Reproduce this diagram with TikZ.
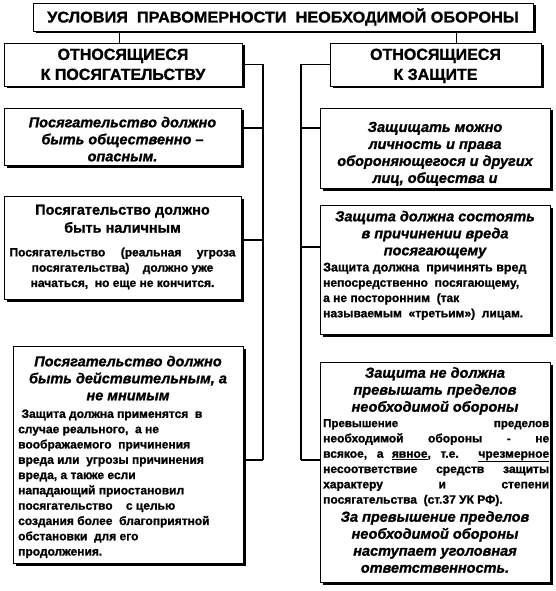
\documentclass[tikz,border=0pt]{standalone}
\usepackage{fontspec}
\setmainfont{Liberation Sans}[BoldFeatures={FakeBold=1.2}, BoldItalicFeatures={FakeBold=1.2}]
\newfontfamily\widefont{Liberation Sans}[FakeStretch=1.05, BoldFeatures={FakeBold=1.2}]
\usetikzlibrary{shadows,calc}
\newcommand\fTitle{\widefont\fontsize{15.5}{20}\selectfont\bfseries}
\newcommand\fHead{\fontsize{16}{20}\selectfont\bfseries}
\newcommand\fIt{\fontsize{14.5}{17}\selectfont\bfseries\itshape}
\newcommand\fBH{\fontsize{14.5}{18}\selectfont\bfseries}
\newcommand\fBody{\fontsize{12}{15.3}\selectfont\bfseries}
\begin{document}
\begin{tikzpicture}[x=1pt,y=-1pt,
  box/.style={draw=black, line width=0.8pt, fill=white, rectangle, inner sep=0pt,
    drop shadow={shadow xshift=2.5pt, shadow yshift=-2.5pt, opacity=1, fill=black}},
  conn/.style={line width=1.6pt, draw=black},
  thinconn/.style={line width=0.8pt, draw=black},
  txt/.style={inner sep=0pt, anchor=north, align=center},
  ltxt/.style={inner sep=0pt, anchor=north west, align=left}]
\useasboundingbox (0,0) rectangle (556,591);
% boxes
\node[box, minimum width=500pt, minimum height=28pt] (title) at (283,17) {};
\node[box, minimum width=238pt, minimum height=43pt] (hL) at (123,64.5) {};
\node[box, minimum width=211pt, minimum height=43pt] (hR) at (435.5,64.5) {};
\node[box, minimum width=237pt, minimum height=57pt] (L1) at (122.5,136.5) {};
\node[box, minimum width=237pt, minimum height=103pt] (L2) at (122.5,247.5) {};
\node[box, minimum width=230pt, minimum height=217pt] (L3) at (128,454.5) {};
\node[box, minimum width=230pt, minimum height=80pt] (R1) at (435,148) {};
\node[box, minimum width=230pt, minimum height=129pt] (R2) at (435,269.5) {};
\node[box, minimum width=230pt, minimum height=220pt] (R3) at (435,472) {};
% connectors
\coordinate (vL) at (263,460);
\coordinate (vR) at (301,460);
\coordinate (yA) at (0,128);
\coordinate (yB) at (0,240);
\coordinate (yC) at (0,247);
\draw[thinconn] ([xshift=-4pt]hL.north) -- ([xshift=-4pt]hL.north |- title.south);
\draw[thinconn] ([xshift=20.5pt]hR.north) -- ([xshift=20.5pt]hR.north |- title.south);
\draw[conn] (hL.east) -| (vL);
\draw[conn] (hR.west) -| (vR);
\draw[conn] (L1.east |- yA) -- (vL |- yA);
\draw[conn] (L2.east |- yB) -- (vL |- yB);
\draw[conn] (L3.east |- vL) -- (vL);
\draw[conn] (R1.west |- yA) -- (vR |- yA);
\draw[conn] (R2.west |- yC) -- (vR |- yC);
\draw[conn] (R3.west |- vR) -- (vR);
% texts
\node[inner sep=0pt, anchor=base, font=\fTitle] (tTitle) at (283,22.5) {УСЛОВИЯ\ \ ПРАВОМЕРНОСТИ\ \ НЕОБХОДИМОЙ ОБОРОНЫ};
\node[txt, font=\fHead] (thL) at (123,48.5) {ОТНОСЯЩИЕСЯ\\К ПОСЯГАТЕЛЬСТВУ};
\node[txt, font=\fHead] (thR) at (435.5,48.5) {ОТНОСЯЩИЕСЯ\\К ЗАЩИТЕ};
\node[txt, font=\fIt] (tL1) at (122.5,116.6) {Посягательство должно\\быть общественно –\\опасным.};
\node[txt, font=\fBH] (tL2h) at (122.5,204.5) {Посягательство должно\\быть наличным};
\node[txt, font=\fBody] (tL2b) at (122.5,247.5) {\makebox[226pt][s]{Посягательство (реальная угроза}\\посягательства)\ \ \ \ должно уже\\начаться,\ \ но еще не кончится.};
\node[txt, font=\fIt] (tL3h) at (128,355.6) {Посягательство должно\\быть действительным, а\\не мнимым};
\node[ltxt, font=\fBody] (tL3b) at (18,409.3) {\ Защита должна применятся\ \ в\\случае реального,\ \ а не\\воображаемого\ \ причинения\\вреда или\ \ угрозы причинения\\вреда, а также если\\нападающий приостановил\\посягательство\ \ \ \ с целью\\создания более\ \ благоприятной\\обстановки\ \ для его\\продолжения.};
\node[txt, font=\fIt] (tR1) at (435,121.6) {\fontsize{14.5}{16}\selectfont Защищать можно\\личность и права\\обороняющегося и других\\лиц, общества и};
\node[txt, font=\fIt] (tR2h) at (435,210.6) {Защита должна состоять\\в причинении вреда\\посягающему};
\node[ltxt, font=\fBody] (tR2b) at (323,262.5) {\fontsize{12.5}{15}\selectfont Защита должна\ \ причинять вред\\непосредственно\ \ посягающему,\\а не посторонним\ \ (так\\называемым\ \ «третьим»)\ \ лицам.};
\node[txt, font=\fIt] (tR3h) at (435,367) {\fontsize{14.5}{16.5}\selectfont Защита не должна\\превышать пределов\\необходимой обороны};
\node[ltxt, font=\fBody] (tR3b) at (323,419) {\fontsize{11.5}{14}\selectfont
\makebox[226pt][s]{Превышение\hfill пределов}\\
\makebox[226pt][s]{необходимой\hfill обороны\hfill -\hfill не}\\
\makebox[226pt][s]{всякое, а \underline{явное}, т.е. \underline{чрезмерное}}\\
\makebox[226pt][s]{несоответствие\hfill средств\hfill защиты}\\
\makebox[226pt][s]{характеру\hfill и\hfill степени}\\
посягательства\ \ (ст.37 УК РФ).};
\node[txt, font=\fIt] (tR3i) at (435,511) {\fontsize{14.5}{16.5}\selectfont За превышение пределов\\необходимой обороны\\наступает уголовная\\ответственность.};
\end{tikzpicture}
\end{document}
